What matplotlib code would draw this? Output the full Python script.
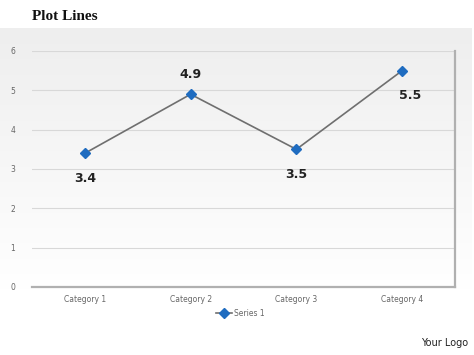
import numpy as np
import matplotlib
matplotlib.use("Agg")
import matplotlib.pyplot as plt

# data
categories = ["Category 1", "Category 2", "Category 3", "Category 4"]
series1 = [3.4, 4.9, 3.5, 5.5]
label_text = ["3.4", "4.9", "3.5", "5.5"]
label_pos = ["below", "above", "below", "below"]
yticks = [0, 1, 2, 3, 4, 5, 6]

W, H = 474, 355
fig = plt.figure(figsize=(W / 100, H / 100), dpi=100)
fig.patch.set_facecolor("white")

# grey-to-white backdrop behind the plot
bg = fig.add_axes([0, (H - 290) / H, 472 / W, (290 - 28) / H], zorder=0)
grad = np.linspace(0, 1, 256).reshape(-1, 1)
bg.imshow(grad, aspect="auto", cmap=matplotlib.colors.LinearSegmentedColormap.from_list(
    "g", ["#eeeeee", "#ffffff"]), extent=[0, 1, 0, 1], origin="upper")
bg.axis("off")

ax = fig.add_axes([32 / W, (H - 287) / H, (455 - 32) / W, (287 - 51) / H], zorder=1)
ax.patch.set_alpha(0)
x = np.arange(len(categories))
ax.plot(x, series1, color="#6f6f6f", lw=1.2, marker="D", ms=5.5,
        mfc="#1f6cc0", mec="#1f6cc0", label="Series 1", zorder=3)

for xi, yi, t, p in zip(x, series1, label_text, label_pos):
    dy = -18 if p == "below" else 14
    dx = 6 if xi == 3 else 0
    ax.annotate(t, (xi, yi), xytext=(dx, dy), textcoords="offset points",
                ha="center", va="center", fontsize=9, fontweight="bold",
                color="#222222")

ax.set_xlim(-0.5, len(categories) - 0.5)
ax.set_ylim(0, 6)
ax.set_yticks(yticks)
ax.set_xticks(x)
ax.set_xticklabels(categories)
ax.tick_params(axis="both", length=0, labelsize=5.5, labelcolor="#666666")
ax.tick_params(axis="y", pad=12)
ax.tick_params(axis="x", pad=6)
ax.grid(axis="y", color="#d8d8d8", lw=0.8)
ax.set_axisbelow(True)
for s in ["top", "left"]:
    ax.spines[s].set_visible(False)
for s in ["right", "bottom"]:
    ax.spines[s].set_color("#b0b0b0")
    ax.spines[s].set_linewidth(1.6)

fig.legend(*ax.get_legend_handles_labels(), loc="center", bbox_to_anchor=(240 / W, 1 - 313 / H),
           frameon=False, fontsize=5.5, labelcolor="#666666", handlelength=2.2,
           handletextpad=0.2, markerscale=0.9)

fig.text(32 / W, 1 - 16 / H, "Plot Lines", fontsize=11, fontweight="bold",
         family="Liberation Serif", va="center", ha="left", color="#111111")
fig.text(468 / W, 1 - 343 / H, "Your Logo", fontsize=7, va="center", ha="right",
         color="#222222")

plt.savefig("out.png", dpi=100)
